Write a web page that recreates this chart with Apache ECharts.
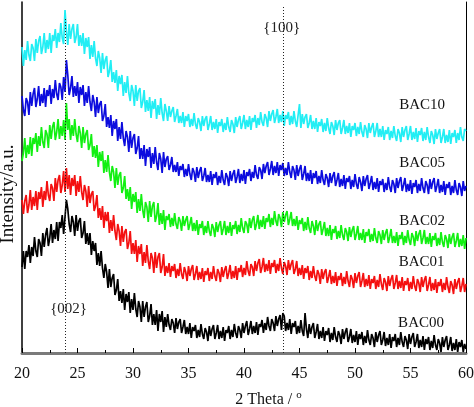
<!DOCTYPE html>
<html>
<head>
<meta charset="utf-8">
<script src="https://cdn.jsdelivr.net/npm/echarts@6/dist/echarts.min.js"></script>
<style>
  html, body { margin: 0; padding: 0; background: #fff; }
  #xrd { width: 474px; height: 407px; }
</style>
</head>
<body>
<div id="xrd"></div>
<script>
// 2 theta sampling (deg), one row per degree below
const thetaStart = 20
const thetaStep = 0.125

// intensity (a.u., curves offset as in the figure)
const bac10 = [
    306,287,303,293,312,298,292,309, 305,292,314,300,312,317,299,306, 320,300,313,304,320,300,318,312,
    324,305,320,311,330,315,309,343, 322,308,329,314,324,329,310,316, 329,307,318,307,320,299,315,306,
    316,294,308,296,312,295,287,302, 295,280,300,284,293,297,276,282, 293,271,281,270,283,262,277,269,
    278,257,271,260,277,260,252,268, 262,247,268,252,262,265,245,251, 263,241,253,242,256,235,252,244,
    254,234,248,238,255,240,232,249, 242,232,247,236,242,246,231,237, 244,230,237,230,241,226,237,232,
    239,226,234,227,240,229,224,235, 231,222,237,227,234,237,223,229, 237,223,231,224,234,220,231,227,
    234,221,230,223,236,226,221,233, 229,220,236,226,233,237,224,230, 238,224,233,226,237,223,235,231,
    238,225,235,228,241,231,227,239, 235,226,242,232,239,243,230,236, 244,230,238,231,242,227,238,234,
    241,228,237,229,242,232,226,238, 249,225,239,229,236,239,225,230, 238,224,232,224,235,221,231,227,
    234,221,230,222,235,225,219,231, 227,218,233,223,230,233,219,225, 233,219,227,220,230,216,227,223,
    230,217,226,219,231,221,216,228, 224,215,230,220,226,230,216,222, 230,216,224,216,227,213,223,219,
    226,213,222,215,227,217,212,224, 220,211,226,216,223,227,213,219, 227,213,221,214,225,211,222,218,
    225,212,221,213,226,216,210,222, 218,209,224,214,220,224,210,216, 224,210,218,211,223,209,220,216,
    223,210,220,213,226,216,212,224, 222
]
const bac05 = [
    257,243,237,255,251,238,261,247, 259,265,246,254,267,247,259,250, 265,246,263,257,268,249,264,255,
    273,259,253,270,266,253,276,261, 293,278,258,265,277,256,267,257, 271,250,266,258,268,247,261,250,
    267,251,242,258,251,236,256,240, 249,252,232,237,249,226,236,225, 238,217,232,224,234,212,226,214,
    231,215,207,222,216,201,222,205, 215,219,199,205,217,194,205,194, 208,187,204,196,206,185,200,189,
    206,191,183,200,194,180,201,186, 194,197,183,188,196,181,188,181, 191,177,187,183,189,176,184,177,
    189,179,173,185,181,171,186,175, 182,186,172,177,185,171,178,171, 182,168,179,175,181,168,177,170,
    183,173,168,180,176,167,182,172, 179,183,170,176,184,170,179,172, 183,169,181,177,184,172,181,175,
    188,178,174,186,183,174,189,180, 187,191,178,184,192,178,187,180, 191,177,188,183,190,177,185,178,
    191,181,175,187,183,173,188,177, 184,188,173,179,187,172,180,172, 183,169,180,175,182,169,177,170,
    183,173,168,179,175,166,180,170, 177,181,167,173,180,166,174,167, 178,164,175,171,177,164,173,166,
    179,169,164,176,171,162,177,167, 174,178,164,170,177,163,171,164, 175,161,172,168,174,161,170,163,
    176,166,161,173,169,160,175,165, 172,176,162,168,175,161,169,162, 173,159,170,166,173,160,169,162,
    175,165,160,172,168,159,174,164, 171,175,161,167,174,160,168,161, 172,158,169,165,171,158,167,160,
    173,163,158,170,166,157,172,162, 167
]
const bac02 = [
    192,200,215,195,208,199,216,197, 215,209,220,201,217,207,226,211, 205,223,219,205,228,214,226,231,
    213,221,234,214,227,217,233,213, 250,223,234,213,228,217,234,219, 211,227,220,205,226,210,219,223,
    203,208,219,196,207,195,208,186, 201,192,202,180,193,181,198,181, 172,187,181,165,185,168,178,181,
    160,165,177,154,164,152,166,144, 159,151,161,140,154,142,159,143, 135,151,146,131,152,136,147,151,
    131,137,150,128,140,129,143,123, 137,133,139,126,135,127,140,129, 124,136,132,122,137,127,133,137,
    123,129,136,122,130,122,133,118, 129,125,132,118,127,120,132,122, 117,129,125,116,131,121,128,132,
    118,124,132,118,127,120,131,117, 128,124,132,119,128,121,135,125, 120,132,129,120,135,125,133,137,
    123,129,138,124,133,126,137,124, 135,131,139,126,135,128,142,132, 127,139,135,126,141,131,138,142,
    128,134,141,127,134,127,137,123, 133,129,135,122,131,123,136,125, 120,132,127,118,133,122,129,132,
    118,124,131,117,125,117,128,113, 124,120,127,114,122,115,128,118, 113,125,121,112,126,116,123,127,
    113,119,127,113,120,113,124,110, 121,117,124,111,119,112,125,115, 110,122,118,109,123,113,120,124,
    110,116,124,110,117,110,121,107, 118,114,121,108,117,110,123,113, 108,120,116,107,122,112,119,123,
    109,115,123,109,116,109,120,106, 117,113,120,107,115,108,121,111, 106,118,114,105,119,109,116,120,
    106,112,120,106,114,107,118,104, 115
]
const bac01 = [
    153,139,152,158,140,148,163,143, 156,147,162,143,161,154,166,146, 162,153,172,158,152,169,165,152,
    175,161,173,178,160,168,182,161, 185,164,178,158,175,167,178,157, 172,161,177,161,153,168,162,146,
    167,150,159,162,142,147,158,135, 145,133,147,125,141,132,141,120, 133,122,138,122,113,129,122,107,
    127,111,121,124,104,110,122,99, 110,99,113,91,107,99,109,87, 101,90,108,92,84,100,95,80,
    101,85,96,100,80,86,99,77, 87,80,90,76,87,82,89,75, 84,77,90,79,74,86,81,72,
    87,77,84,88,73,79,87,73, 81,74,85,71,82,78,85,72, 81,74,87,77,72,84,80,71,
    86,76,83,87,74,80,88,74, 82,75,87,73,85,81,88,76, 85,78,92,82,77,89,86,77,
    92,82,90,94,80,86,95,81, 89,82,93,79,90,86,93,80, 89,82,95,85,79,91,87,78,
    93,83,89,93,79,84,92,77, 85,78,88,74,85,80,87,73, 82,75,87,77,72,83,79,69,
    84,74,81,84,70,76,83,69, 77,70,81,67,77,73,80,67, 76,69,82,72,66,78,74,65,
    80,70,77,81,66,72,80,66, 74,67,78,64,74,70,77,64, 73,66,79,69,63,75,71,62,
    77,67,74,78,64,70,78,64, 72,65,76,62,72,68,75,62, 71,64,77,67,62,74,70,61,
    76,66,73,77,62,68,76,62, 70,63,74,60,71,67,74,61, 70,63,76,66,60,72,68,59,
    74,64,71,75,61,67,75,61, 69
]
const bac00 = [
    86,102,84,102,96,108,90,106, 97,116,102,96,114,110,97,120, 106,118,125,107,115,129,110,123,
    114,131,112,131,125,138,119,136, 153,144,129,121,137,131,117,138, 122,132,135,115,120,132,109,120,
    108,120,98,112,102,110,88,100, 87,102,85,75,89,81,65,84, 66,75,79,58,63,74,52,62,
    50,64,43,59,51,61,40,54, 43,60,44,36,52,46,31,52, 36,46,51,31,37,49,28,39,
    28,43,22,39,31,42,21,36, 26,39,28,23,34,30,20,35, 24,31,34,20,26,33,19,26,
    19,30,15,26,22,28,15,23, 16,29,19,14,25,21,12,27, 17,24,28,14,20,28,14,22,
    15,26,12,23,20,27,14,23, 16,29,20,15,27,23,15,30, 20,27,32,18,24,32,19,27,
    20,31,18,29,26,33,20,30, 23,36,27,22,34,30,22,37, 27,34,38,23,40,37,22,30,
    23,34,19,30,26,32,19,27, 20,33,22,17,40,24,15,29, 19,26,30,15,21,29,14,22,
    15,26,12,22,18,25,11,20, 13,26,16,11,22,18,9,24, 14,21,25,11,16,24,10,18,
    11,22,8,19,14,21,8,17, 10,23,13,8,19,15,6,21, 11,18,22,8,13,21,7,15,
    8,19,5,16,12,19,6,15, 8,21,11,6,17,13,4,19, 9,16,20,6,11,19,5,13,
    6,17,3,14,9,16,3,12, 5,18,8,3,14,10,1,16, 6,13,17,3,8,16,2,10,
    3,14,1,11,6,13,1,9, 4
]

const sampleNames = ['BAC00', 'BAC01', 'BAC02', 'BAC05', 'BAC10']
const sampleColors = ['#000000', '#f41010', '#12f012', '#0c0cde', '#22eef4']
// where each sample name sits: [2 theta, intensity]
const namePos = [[55.95, 30], [56.0, 91], [56.05, 132], [56.05, 190], [56.05, 248]]
// reflections
const peakTheta = [23.94, 43.5]
const peakNames = ['{002}', '{100}']
const peakLabelPos = [[24.2, 44], [43.4, 325]]
const peakLineTop = [336, 348]

const serif = 'Liberation Serif'
const chart = echarts.init(document.getElementById('xrd'))

const allData = [bac00, bac01, bac02, bac05, bac10]
const series = allData.map((vals, idx) => {
    return {
        name: sampleNames[idx],
        type: 'line',
        symbol: 'none',
        animation: false,
        lineStyle: { color: sampleColors[idx], width: 1.7 },
        data: vals.map((v, i) => [thetaStart + i * thetaStep, v]),
        markPoint: {
            symbol: 'circle',
            symbolSize: 1,
            itemStyle: { color: 'transparent' },
            label: {
                show: true, position: 'inside', color: '#111',
                fontFamily: serif, fontSize: 15,
                formatter: sampleNames[idx]
            },
            data: [{ coord: namePos[idx] }]
        }
    }
})

// dotted reflection lines with their labels
series.push({
    type: 'line',
    data: [],
    markLine: {
        symbol: 'none',
        silent: true,
        label: { show: false },
        lineStyle: { color: '#222', type: [1, 2], width: 1 },
        data: peakTheta.map((t, i) => [{ coord: [t, 0] }, { coord: [t, peakLineTop[i]] }])
    },
    markPoint: {
        symbol: 'circle',
        symbolSize: 1,
        itemStyle: { color: 'transparent' },
        label: {
            show: true, position: 'inside', color: '#222',
            fontFamily: serif, fontSize: 15,
            formatter: (p) => p.name
        },
        data: peakNames.map((n, i) => ({ name: n, coord: peakLabelPos[i] }))
    }
})

chart.setOption({
    animation: false,
    grid: { left: 22, right: 8, top: 2, bottom: 54, outerBoundsMode: 'none' },
    xAxis: [
        {
            type: 'value',
            min: 20,
            max: 60,
            interval: 5,
            name: '2 Theta / {sup|o}',
            nameLocation: 'middle',
            nameGap: 37,
            nameTextStyle: {
                fontFamily: serif, fontSize: 16, color: '#111',
                padding: [0, 0, 0, 49],
                rich: { sup: { fontFamily: serif, fontSize: 11, verticalAlign: 'top', padding: [0, 0, 8, 0] } }
            },
            axisLine: { lineStyle: { color: '#000', width: 1.5 } },
            axisTick: { inside: true, length: 5, lineStyle: { color: '#000' } },
            minorTick: { show: true, splitNumber: 2, length: 3, lineStyle: { color: '#000' } },
            axisLabel: { fontFamily: serif, fontSize: 16, color: '#111', margin: 13 },
            splitLine: { show: false }
        },
        {
            type: 'value',
            position: 'top',
            min: 20,
            max: 60,
            axisLine: { show: true, lineStyle: { color: '#7a7a7a', width: 3 } },
            axisTick: { show: false },
            axisLabel: { show: false },
            splitLine: { show: false }
        }
    ],
    yAxis: [
        {
            type: 'value',
            min: 0,
            max: 351,
            name: 'Intensity/a.u.',
            nameLocation: 'middle',
            nameGap: 4,
            nameTextStyle: { fontFamily: serif, fontSize: 19, color: '#111', padding: [0, 33, 0, 0] },
            axisLine: { show: true, lineStyle: { color: '#000', width: 1.5 } },
            axisTick: { show: false },
            axisLabel: { show: false },
            splitLine: { show: false }
        },
        {
            type: 'value',
            position: 'right',
            min: 0,
            max: 351,
            axisLine: { show: true, lineStyle: { color: '#000', width: 1 } },
            axisTick: { show: false },
            axisLabel: { show: false },
            splitLine: { show: false }
        }
    ],
    series: series
})
</script>
</body>
</html>
